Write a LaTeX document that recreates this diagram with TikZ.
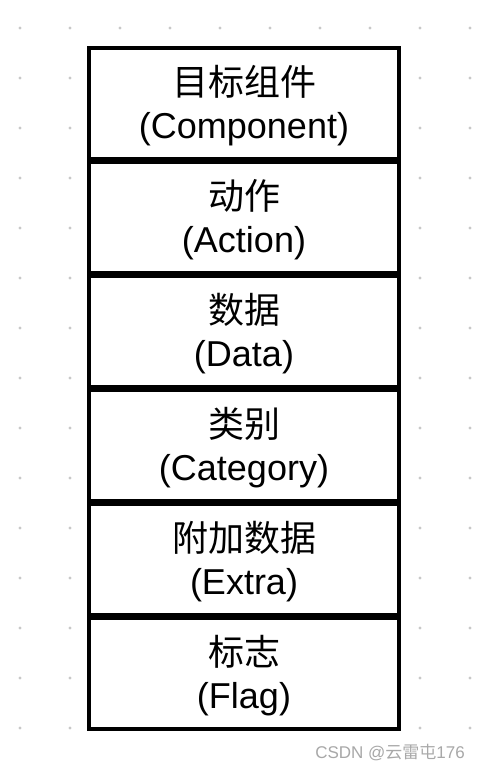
\documentclass[tikz,border=0pt]{standalone}
\usepackage{fontspec}
\setmainfont{Liberation Sans}
\newfontfamily\cjk{Noto Sans CJK SC}
\definecolor{dotgray}{HTML}{C8C8C8}
\definecolor{markgray}{HTML}{A8A8A8}
\begin{document}
\begin{tikzpicture}[x=1pt,y=1pt,
  field/.style={draw=black, fill=white, line width=4pt, minimum width=310pt,
    minimum height=111pt, inner sep=0pt},
  fieldtext/.style={inner sep=0pt, align=center,
    font=\fontsize{36}{43}\selectfont},
  dotmark/.style={fill=dotgray, draw=none}]
\useasboundingbox (0,0) rectangle (478,-772);
\fill[white] (0,0) rectangle (478,-772);
\foreach \i in {0,...,9}{
  \foreach \j in {0,...,14}{
    \fill[dotmark] (20+50*\i,-28-50*\j) circle (1.6pt);
  }
}
\node[field] (comp) at (244,-103.5) {};
\node[field] (act)  at (244,-217.5) {};
\node[field] (data) at (244,-331.5) {};
\node[field] (cat)  at (244,-445.5) {};
\node[field] (extra) at (244,-559.5) {};
\node[field] (flag) at (244,-673.5) {};
\node[fieldtext] (compt) at ([yshift=-2.5pt]comp.center) {{\cjk 目标组件}\\(Component)};
\node[fieldtext] (actt) at ([yshift=-2.5pt]act.center) {{\cjk 动作}\\(Action)};
\node[fieldtext] (datat) at ([yshift=-2.5pt]data.center) {{\cjk 数据}\\(Data)};
\node[fieldtext] (catt) at ([yshift=-2.5pt]cat.center) {{\cjk 类别}\\(Category)};
\node[fieldtext] (extrat) at ([yshift=-2.5pt]extra.center) {{\cjk 附加数据}\\(Extra)};
\node[fieldtext] (flagt) at ([yshift=-2.5pt]flag.center) {{\cjk 标志}\\(Flag)};
\node[anchor=east, text=markgray, inner sep=0pt, font=\fontsize{17}{20}\selectfont] (mark) at (465,-753) {CSDN @{\cjk 云雷屯}176};
\end{tikzpicture}
\end{document}
